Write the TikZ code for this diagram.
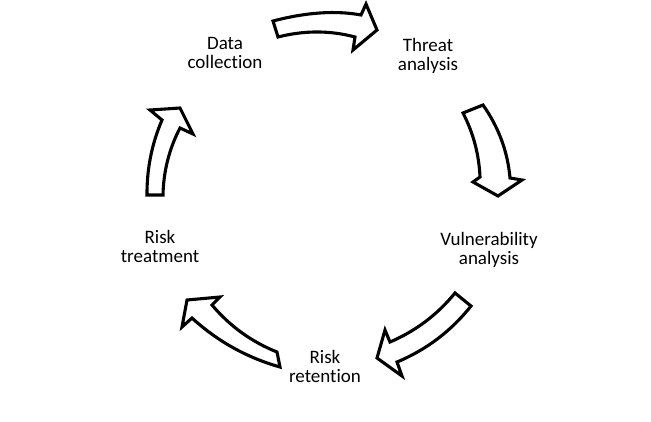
\documentclass[tikz,border=0pt]{standalone}
\usepackage{fontspec}
\setmainfont[Ligatures={NoCommon}]{Carlito}
\begin{document}
\begin{tikzpicture}[x=1pt,y=-1pt,
  lbl/.style={align=center,inner sep=0pt,anchor=base,font=\fontsize{19}{19.3}\selectfont},
  blockarrow/.style={draw=black,fill=white,line width=3.1pt,line join=miter}]
\useasboundingbox (0,0) rectangle (651,421);
% labels (positioned at baseline of last line)
\node[lbl] (dc) at (225,68.8) {Data\\collection};
\node[lbl] (ta) at (428,70.3) {Threat\\analysis};
\node[lbl] (va) at (489,264.6) {Vulnerability\\analysis};
\node[lbl] (rt) at (160,262.6) {Risk\\treatment};
\node[lbl] (rr) at (325,382.6) {Risk\\retention};
% arrow 1 (top)
\draw[blockarrow] (273,21) .. controls (306.3,12.3) and (335.7,10.3) .. (361,15) -- (366,4) -- (377,30)
  -- (353,50) -- (355,37) .. controls (330,30.3) and (304.3,30.3) .. (278,37) -- cycle;
% arrow 2 (right)
\draw[blockarrow] (463,113) -- (483,105) .. controls (498.7,127.3) and (507.7,151.7) .. (510,178)
  -- (522,180) -- (498,196) -- (473,182) -- (480,177) .. controls (479,154.3) and (473.3,133) .. cycle;
% arrow 3 (bottom right)
\draw[blockarrow] (455,293) -- (471,306) .. controls (451.1,331.1) and (426.5,349.7) .. (397,362)
  -- (402,376) -- (377,358) -- (385,330) -- (390,342) .. controls (415.7,331) and (437.3,314.7) .. cycle;
% arrow 4 (bottom left)
\draw[blockarrow] (277,352) -- (280,367) .. controls (246.8,357.6) and (217.5,341.3) .. (192,318)
  -- (182,327) -- (187,300) -- (220,297) -- (212,305) .. controls (229.8,326.1) and (251.5,341.8) .. cycle;
% arrow 5 (left)
\draw[blockarrow] (147,195) -- (163,195) .. controls (163.5,171.3) and (169.1,149) .. (180,128)
  -- (193,134) -- (180,108) -- (150,110) -- (162,120) .. controls (151.8,143.9) and (146.8,168.9) .. cycle;
\end{tikzpicture}
\end{document}
